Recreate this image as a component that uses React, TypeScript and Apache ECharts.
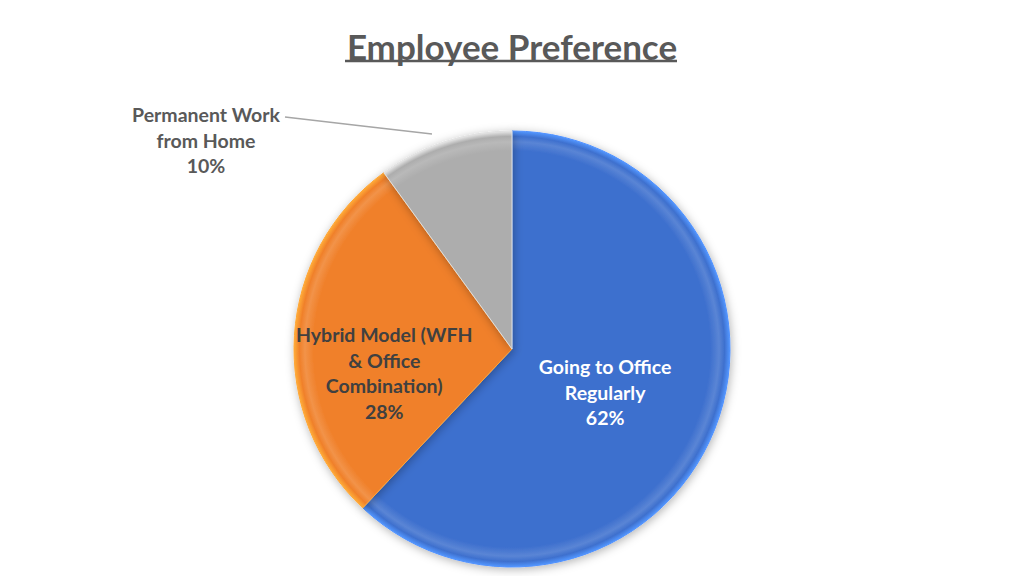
import React, { useEffect, useRef } from "react";
import * as echarts from "echarts";

const categories = [
  "Going to Office\nRegularly",
  "Hybrid Model (WFH\n& Office\nCombination)",
  "Permanent Work\nfrom Home",
];
const values = [62, 28, 10];
const colors = ["#3E70CE", "#F0802A", "#ADADAD"];
const titleText = "Employee Preference";

const FONT = "Lato, 'Open Sans', sans-serif";
const CX = 512;
const CY = 349;
const R = 218;

export default function App() {
  const ref = useRef<HTMLDivElement>(null);
  useEffect(() => {
    if (!ref.current) return;
    const chart = echarts.init(ref.current, undefined, { renderer: "svg" });
    const lift = (c: string, a: number) => echarts.color.lift(c, a);
    const data = values.map((v, i) => ({
      name: categories[i],
      value: v,
      itemStyle: {
        color: {
          type: "radial",
          x: CX,
          y: CY,
          r: R,
          global: true,
          colorStops: [
            { offset: 0, color: colors[i] },
            { offset: 0.91, color: colors[i] },
            { offset: 0.95, color: lift(colors[i], 0.15) },
            { offset: 0.975, color: colors[i] },
            { offset: 1, color: lift(colors[i], -0.35) },
          ],
        },
        borderColor: lift(colors[i], -0.3),
        borderWidth: 1,
      },
      label:
        i === 2
          ? { position: "outside", color: "#595959" }
          : i === 0
          ? { position: "inside", color: "#FFFFFF", offset: [-11, 2] }
          : { position: "inside", color: "#404040", offset: [-16, 31] },
      labelLine: i === 2 ? { show: true } : { show: false },
    }));
    chart.setOption({
      animation: false,
      backgroundColor: "#FFFFFF",
      title: {
        text: titleText,
        left: "center",
        top: 23,
        textStyle: {
          fontFamily: FONT,
          fontWeight: "bold",
          fontSize: 35,
          color: "#595959",
        },
      },
      graphic: [
        {
          type: "line",
          shape: { x1: 345, y1: 61, x2: 677, y2: 61 },
          style: { stroke: "#595959", lineWidth: 2.5 },
        },
      ],
      series: [
        {
          type: "pie",
          center: [CX, CY],
          radius: R,
          startAngle: 90,
          clockwise: true,
          data,
          itemStyle: {
            shadowBlur: 10,
            shadowColor: "rgba(0,0,0,0.3)",
            shadowOffsetX: 1,
            shadowOffsetY: 2,
          },
          label: {
            show: true,
            formatter: "{b}\n{d}%",
            fontFamily: FONT,
            fontWeight: "bold",
            fontSize: 19.5,
            lineHeight: 25.5,
            align: "center",
          },
          labelLine: {
            lineStyle: { color: "#A6A6A6", width: 1.5 },
            smooth: false,
          },
          labelLayout: (params: any) => {
            if (params.dataIndex === 2) {
              return {
                x: 206,
                y: 140,
                align: "center",
                verticalAlign: "middle",
                labelLinePoints: [
                  [285, 117],
                  [358, 125.5],
                  [432, 134],
                ],
              };
            }
            return {};
          },
          emphasis: { disabled: true },
        },
      ],
    });
    return () => chart.dispose();
  }, []);
  return (
    <div
      ref={ref}
      style={{ position: "fixed", left: 0, top: 0, width: 1024, height: 576 }}
    />
  );
}
